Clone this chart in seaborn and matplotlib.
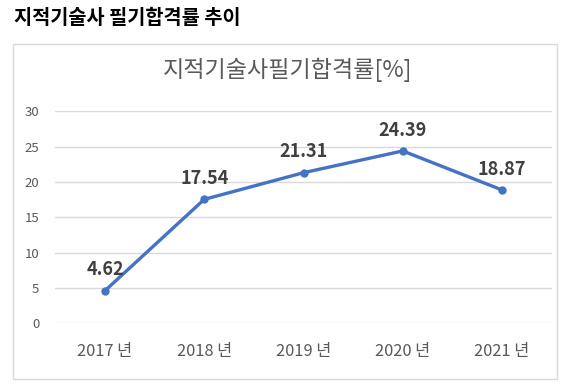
import matplotlib
matplotlib.use("Agg")
import matplotlib.pyplot as plt
import seaborn as sns
import pandas as pd
from matplotlib.patches import Rectangle

years = ["2017 년", "2018 년", "2019 년", "2020 년", "2021 년"]
rates = [4.62, 17.54, 21.31, 24.39, 18.87]
y_ticks = [0, 5, 10, 15, 20, 25, 30]
page_title = "지적기술사 필기합격률 추이"
chart_title = "지적기술사필기합격률[%]"

sns.set_theme(style="white")
plt.rcParams["font.family"] = ["Noto Sans CJK KR", "DejaVu Sans"]

df = pd.DataFrame({"year": years, "rate": rates})

fig = plt.figure(figsize=(5.73, 3.89), dpi=100)
W, H = 573, 389
ax = fig.add_axes([55.4 / W, 1 - 323.3 / H, (551.6 - 55.4) / W, (323.3 - 111.3) / H])

# chart box border
fig.patches.append(Rectangle((12.5 / W, 1 - 378.5 / H), (557 - 12.5) / W, (378.5 - 43.5) / H,
                             transform=fig.transFigure, fill=False,
                             edgecolor="#D9D9D9", linewidth=1.0, zorder=0))

sns.lineplot(data=df, x="year", y="rate", ax=ax, color="#4472C4", linewidth=2.4,
             marker="o", markersize=6, markeredgewidth=0, sort=False)

ax.set_xlim(-0.5, 4.5)
ax.set_ylim(0, 30)
ax.set_yticks(y_ticks)
ax.set_yticklabels([str(t) for t in y_ticks])
ax.grid(axis="y", color="#D9D9D9", linewidth=1.0)
ax.set_axisbelow(True)
for s in ax.spines.values():
    s.set_visible(False)
ax.set_xlabel("")
ax.set_ylabel("")
ax.tick_params(axis="y", length=0, pad=11.5, labelsize=9.5, labelcolor="#595959")
ax.tick_params(axis="x", length=0, pad=14.5, labelsize=11.8, labelcolor="#595959")

for i, v in enumerate(rates):
    ax.annotate(f"{v:.2f}", (i, v), xytext=(0, 15), textcoords="offset points",
                ha="center", va="center", fontsize=13, fontweight="bold", color="#404040")

fig.text(163 / W, 1 - 70 / H, chart_title, ha="left", va="center",
         fontsize=16.6, color="#595959")
fig.text(14 / W, 1 - 18 / H, page_title, ha="left", va="center",
         fontsize=14.2, fontweight="bold", color="#000000")

fig.savefig("out.png", dpi=100)
